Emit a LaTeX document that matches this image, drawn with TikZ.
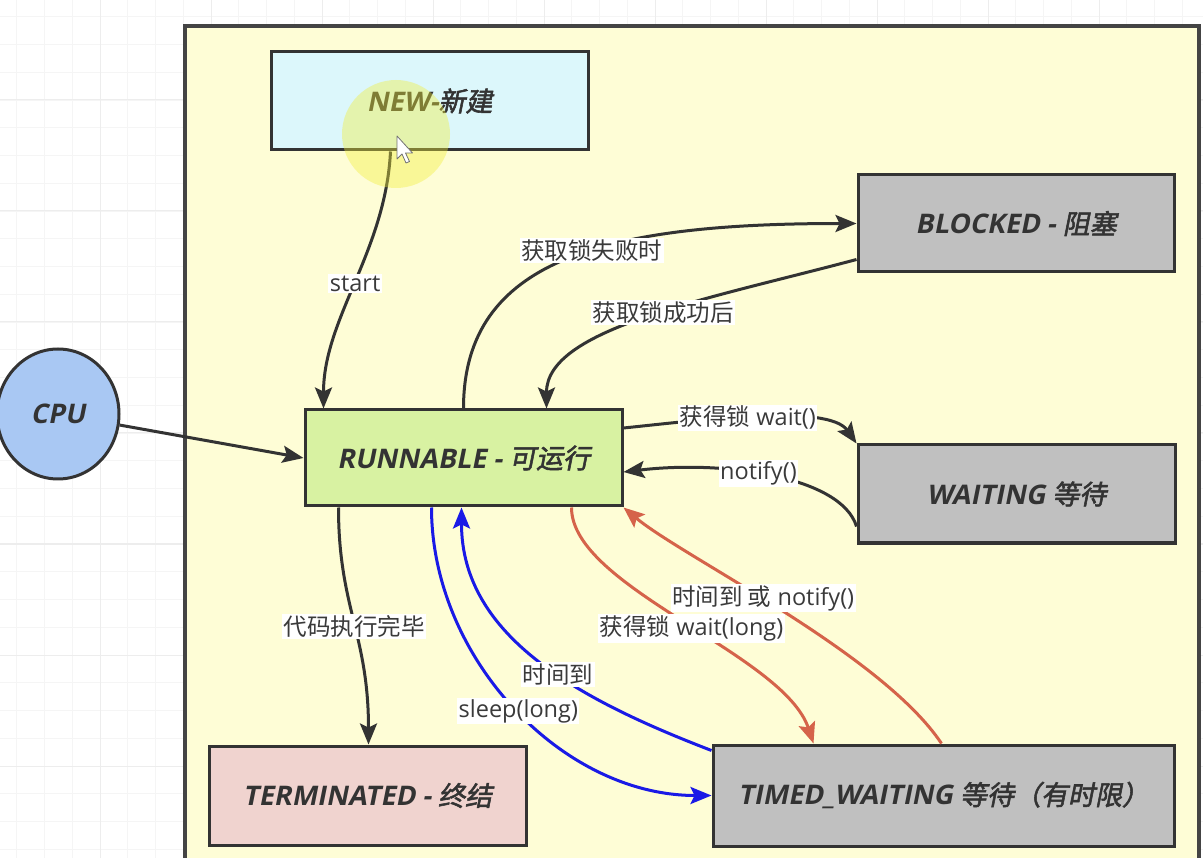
\documentclass[tikz,border=0pt]{standalone}
\usepackage{fontspec}
\setmainfont{Open Sans}
\newfontfamily\cjk{Noto Sans CJK SC}
\newfontfamily\bcjk[FakeSlant=0.2,FakeBold=2]{Noto Sans CJK SC}
\newfontfamily\blat[FakeSlant=0.2]{Open Sans}
\usetikzlibrary{arrows.meta,shapes.geometric,calc}
\definecolor{frameY}{HTML}{FEFDD6}
\definecolor{frm}{HTML}{444444}
\definecolor{dk}{HTML}{333333}
\definecolor{txt}{HTML}{333333}
\definecolor{lab}{HTML}{3A3A3A}
\definecolor{newC}{HTML}{DCF7FB}
\definecolor{runC}{HTML}{D8F2A2}
\definecolor{grayC}{HTML}{C0C0C0}
\definecolor{termC}{HTML}{F0D3CF}
\definecolor{cpuC}{HTML}{A9C8F3}
\definecolor{blueA}{HTML}{1A1AE6}
\definecolor{redA}{HTML}{D5634A}
\definecolor{hiC}{HTML}{F2EE3A}
\newcommand{\stt}[2]{{\blat\bfseries #1}{\bcjk #2}}
\newcommand{\zh}[1]{{\cjk #1}}
\tikzset{
  statebox/.style={draw=dk, line width=3pt, rectangle, inner sep=0pt, text=txt,
    font=\fontsize{27}{30}\selectfont},
  lbl/.style={fill=white, inner sep=1.5pt, text=lab, font=\fontsize{23.5}{26}\selectfont},
  arr/.style={draw=dk, line width=3pt, -{Stealth[length=21pt,width=17pt,inset=4pt]}},
  barr/.style={arr, draw=blueA},
  rarr/.style={arr, draw=redA},
  gridminor/.style={draw=black!4, line width=0.8pt},
  gridmajor/.style={draw=black!7, line width=1pt}
}
\begin{document}
\begin{tikzpicture}[x=1pt,y=-1pt]
\useasboundingbox (0,0) rectangle (1203,858);
\clip (0,0) rectangle (1203,858);
\fill[white] (0,0) rectangle (1203,858);
% grid
\foreach \i in {-4,...,40}{
  \draw[gridminor] ({100+27.75*\i},0) -- ({100+27.75*\i},858);
  \draw[gridminor] (0,{100+27.75*\i}) -- (1203,{100+27.75*\i});
}
\foreach \i in {-1,...,10}{
  \draw[gridmajor] ({100+111*\i},0) -- ({100+111*\i},858);
  \draw[gridmajor] (0,{100+111*\i}) -- (1203,{100+111*\i});
}
% frame
\draw[line width=3.5pt, draw=frm, fill=frameY] (185,26) rectangle (1199,880);

% states
\node[statebox, fill=newC, minimum width=317pt, minimum height=98pt] (new) at (429.5,101) {\stt{NEW-}{新建}};
\node[statebox, fill=grayC, minimum width=316pt, minimum height=97pt] (blk) at (1016,223.5) {\stt{BLOCKED - }{阻塞}};
\node[statebox, fill=runC, minimum width=317pt, minimum height=96pt] (run) at (463.5,458) {\stt{RUNNABLE - }{可运行}};
\node[statebox, fill=grayC, minimum width=317pt, minimum height=98pt] (wait) at (1016.5,494) {\stt{WAITING }{等待}};
\node[statebox, fill=termC, minimum width=317pt, minimum height=99pt] (term) at (367.5,795.5) {\stt{TERMINATED - }{终结}};
\node[statebox, fill=grayC, minimum width=461pt, minimum height=101pt] (timed) at (943.5,795.5) {\stt{TIMED\_WAITING }{等待（有时限）}};
\node[statebox, ellipse, fill=cpuC, minimum width=122pt, minimum height=130pt] (cpu) at (58,414) {\stt{CPU}{}};

% connectors
\draw[arr] ([xshift=121pt]new.south west) .. controls +(-5,100) and +(0,-90) .. ([xshift=20pt]run.north west)
  node[lbl, pos=.5] {start};
\draw[arr] (cpu) -- (run.west);
\draw[arr] (run.north) .. controls +(0,-150) and +(-250,0) .. (blk.west)
  node[lbl, pos=.56] {\zh{获取锁失败时}};
\draw[arr] ([yshift=14pt]blk.south west) .. controls +(-150,40) and +(0,-80) .. ([xshift=243pt]run.north west)
  node[lbl, pos=.45] {\zh{获取锁成功后}};
\draw[arr] ([yshift=30pt]run.east) .. controls +(78,-8) and +(-28,-40) .. (wait.north west)
  node[lbl, pos=.46] {\zh{获得锁} wait()};
\draw[arr] ([yshift=18pt]wait.south west) .. controls +(-15,-50) and +(100,-12) .. ([yshift=-14pt]run.east)
  node[lbl, pos=.55] {notify()};
\draw[arr] ([xshift=35pt]run.south west) .. controls +(0,100) and +(0,-110) .. ([xshift=161pt]term.north west)
  node[lbl, pos=.52] {\zh{代码执行完毕}};
\draw[barr] ([xshift=128pt]run.south west) .. controls +(0,150) and +(-150,0) .. (timed.west)
  node[lbl, pos=.51] {sleep(long)};
\draw[barr] ([yshift=-7pt]timed.north west) .. controls +(-130,-50) and +(0,130) .. ([xshift=158pt]run.south west)
  node[lbl, pos=.43] {\zh{时间到}};
\draw[rarr] ([xshift=268pt]run.south west) .. controls +(0,80) and +(-30,-90) .. ([xshift=102pt]timed.north west)
  node[lbl, pos=.53] {\zh{获得锁} wait(long)};
\draw[rarr] ([xshift=230pt]timed.north west) .. controls +(-60,-90) and +(60,50) .. (run.south east)
  node[lbl, pos=.55] {\zh{时间到 或} notify()};

% cursor highlight and pointer
\fill[hiC, opacity=.4] (396,134) circle (54);
\coordinate (tip) at (397,136);
\draw[fill=white, draw=black!55, line width=0.8pt, line join=round]
  (tip) -- ++(0,23) -- ++(5,-5) -- ++(4,9) -- ++(3.5,-1.5) -- ++(-4,-8.5) -- ++(7,0) -- cycle;
\end{tikzpicture}
\end{document}
